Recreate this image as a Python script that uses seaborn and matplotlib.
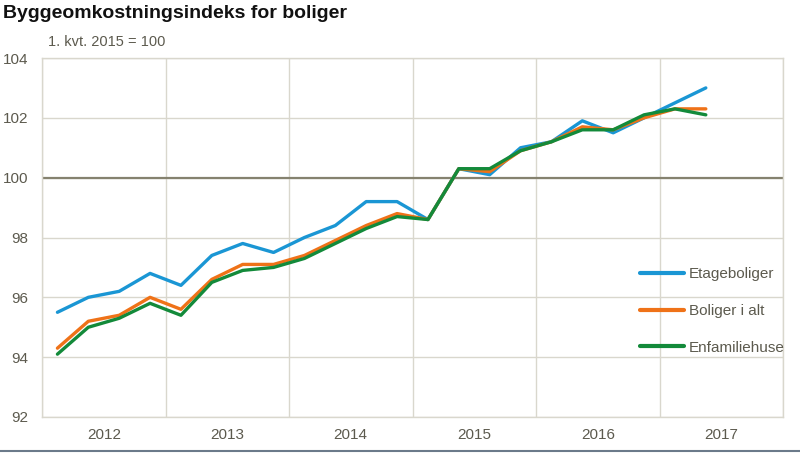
import pandas as pd
import matplotlib.pyplot as plt
import seaborn as sns

# Quarterly index, 1. kvt. 2015 = 100, from 2012K1 to 2017K2
quarters = [f"{y}K{q}" for y in range(2012, 2018) for q in range(1, 5)][:22]
etageboliger = [95.5, 96.0, 96.2, 96.8, 96.4, 97.4, 97.8, 97.5, 98.0, 98.4, 99.2,
                99.2, 98.6, 100.3, 100.1, 101.0, 101.2, 101.9, 101.5, 102.0, 102.5, 103.0]
boliger_i_alt = [94.3, 95.2, 95.4, 96.0, 95.6, 96.6, 97.1, 97.1, 97.4, 97.9, 98.4,
                 98.8, 98.6, 100.3, 100.2, 100.9, 101.2, 101.7, 101.6, 102.0, 102.3, 102.3]
enfamiliehuse = [94.1, 95.0, 95.3, 95.8, 95.4, 96.5, 96.9, 97.0, 97.3, 97.8, 98.3,
                 98.7, 98.6, 100.3, 100.3, 100.9, 101.2, 101.6, 101.6, 102.1, 102.3, 102.1]
years = ["2012", "2013", "2014", "2015", "2016", "2017"]
y_ticks = [92, 94, 96, 98, 100, 102, 104]

series = {"Etageboliger": etageboliger,
          "Boliger i alt": boliger_i_alt,
          "Enfamiliehuse": enfamiliehuse}
df = pd.concat([pd.DataFrame({"pos": range(len(v)), "kvartal": quarters[:len(v)],
                              "indeks": v, "serie": k}) for k, v in series.items()])

palette = {"Etageboliger": "#1a96d4", "Boliger i alt": "#ef7218", "Enfamiliehuse": "#138a3a"}
text_col = "#5c5a4e"
grid_col = "#d9d7cd"

sns.set_style("white")
plt.rcParams['font.family'] = ['Liberation Sans', 'DejaVu Sans']

fig = plt.figure(figsize=(8, 4.55), dpi=100)
ax = fig.add_axes([42 / 800, 38 / 455, 741 / 800, 359 / 455])

sns.lineplot(data=df, x="pos", y="indeks", hue="serie", palette=palette,
             hue_order=list(series.keys()), linewidth=2.4, ax=ax, legend=False, zorder=3)

ax.set_xlim(-0.5, 23.5)
ax.set_ylim(92, 104)

# year boundaries as gridlines, year labels centred in each year
ax.set_xticks([i * 4 - 0.5 for i in range(7)])
ax.set_xticklabels([])
ax.set_xticks([i * 4 + 1.5 for i in range(6)], minor=True)
ax.set_xticklabels(years, minor=True)
ax.set_yticks(y_ticks)
ax.tick_params(axis="both", which="both", length=0, labelsize=11, labelcolor=text_col)
ax.tick_params(axis="y", pad=10)
ax.tick_params(axis="x", which="minor", pad=8)
ax.grid(True, which="major", color=grid_col, linewidth=1)
ax.axhline(100, color="#85826f", linewidth=1.6, zorder=2)
for s in ax.spines.values():
    s.set_color(grid_col)
    s.set_linewidth(1)
ax.set_xlabel("")
ax.set_ylabel("")

handles = [plt.Line2D([], [], color=palette[k], linewidth=3) for k in series]
leg = ax.legend(handles, list(series.keys()), loc="upper left",
                bbox_to_anchor=(0.807, 0.418), frameon=False, fontsize=11,
                handlelength=2.9, handletextpad=0.28, labelspacing=1.5,
                borderpad=0, borderaxespad=0)
for t in leg.get_texts():
    t.set_color(text_col)

fig.text(3 / 800, 1 - 14 / 455, "Byggeomkostningsindeks for boliger", fontsize=14,
         fontweight="bold", color="#111111", va="center", ha="left")
fig.text(48 / 800, 1 - 42 / 455, "1. kvt. 2015 = 100", fontsize=10.5,
         color=text_col, va="center", ha="left")
fig.add_artist(plt.Line2D([0, 1], [1 - 451 / 455] * 2, color="#6b7a8a",
                          linewidth=1.5, transform=fig.transFigure))

fig.savefig("out.png", dpi=100)
